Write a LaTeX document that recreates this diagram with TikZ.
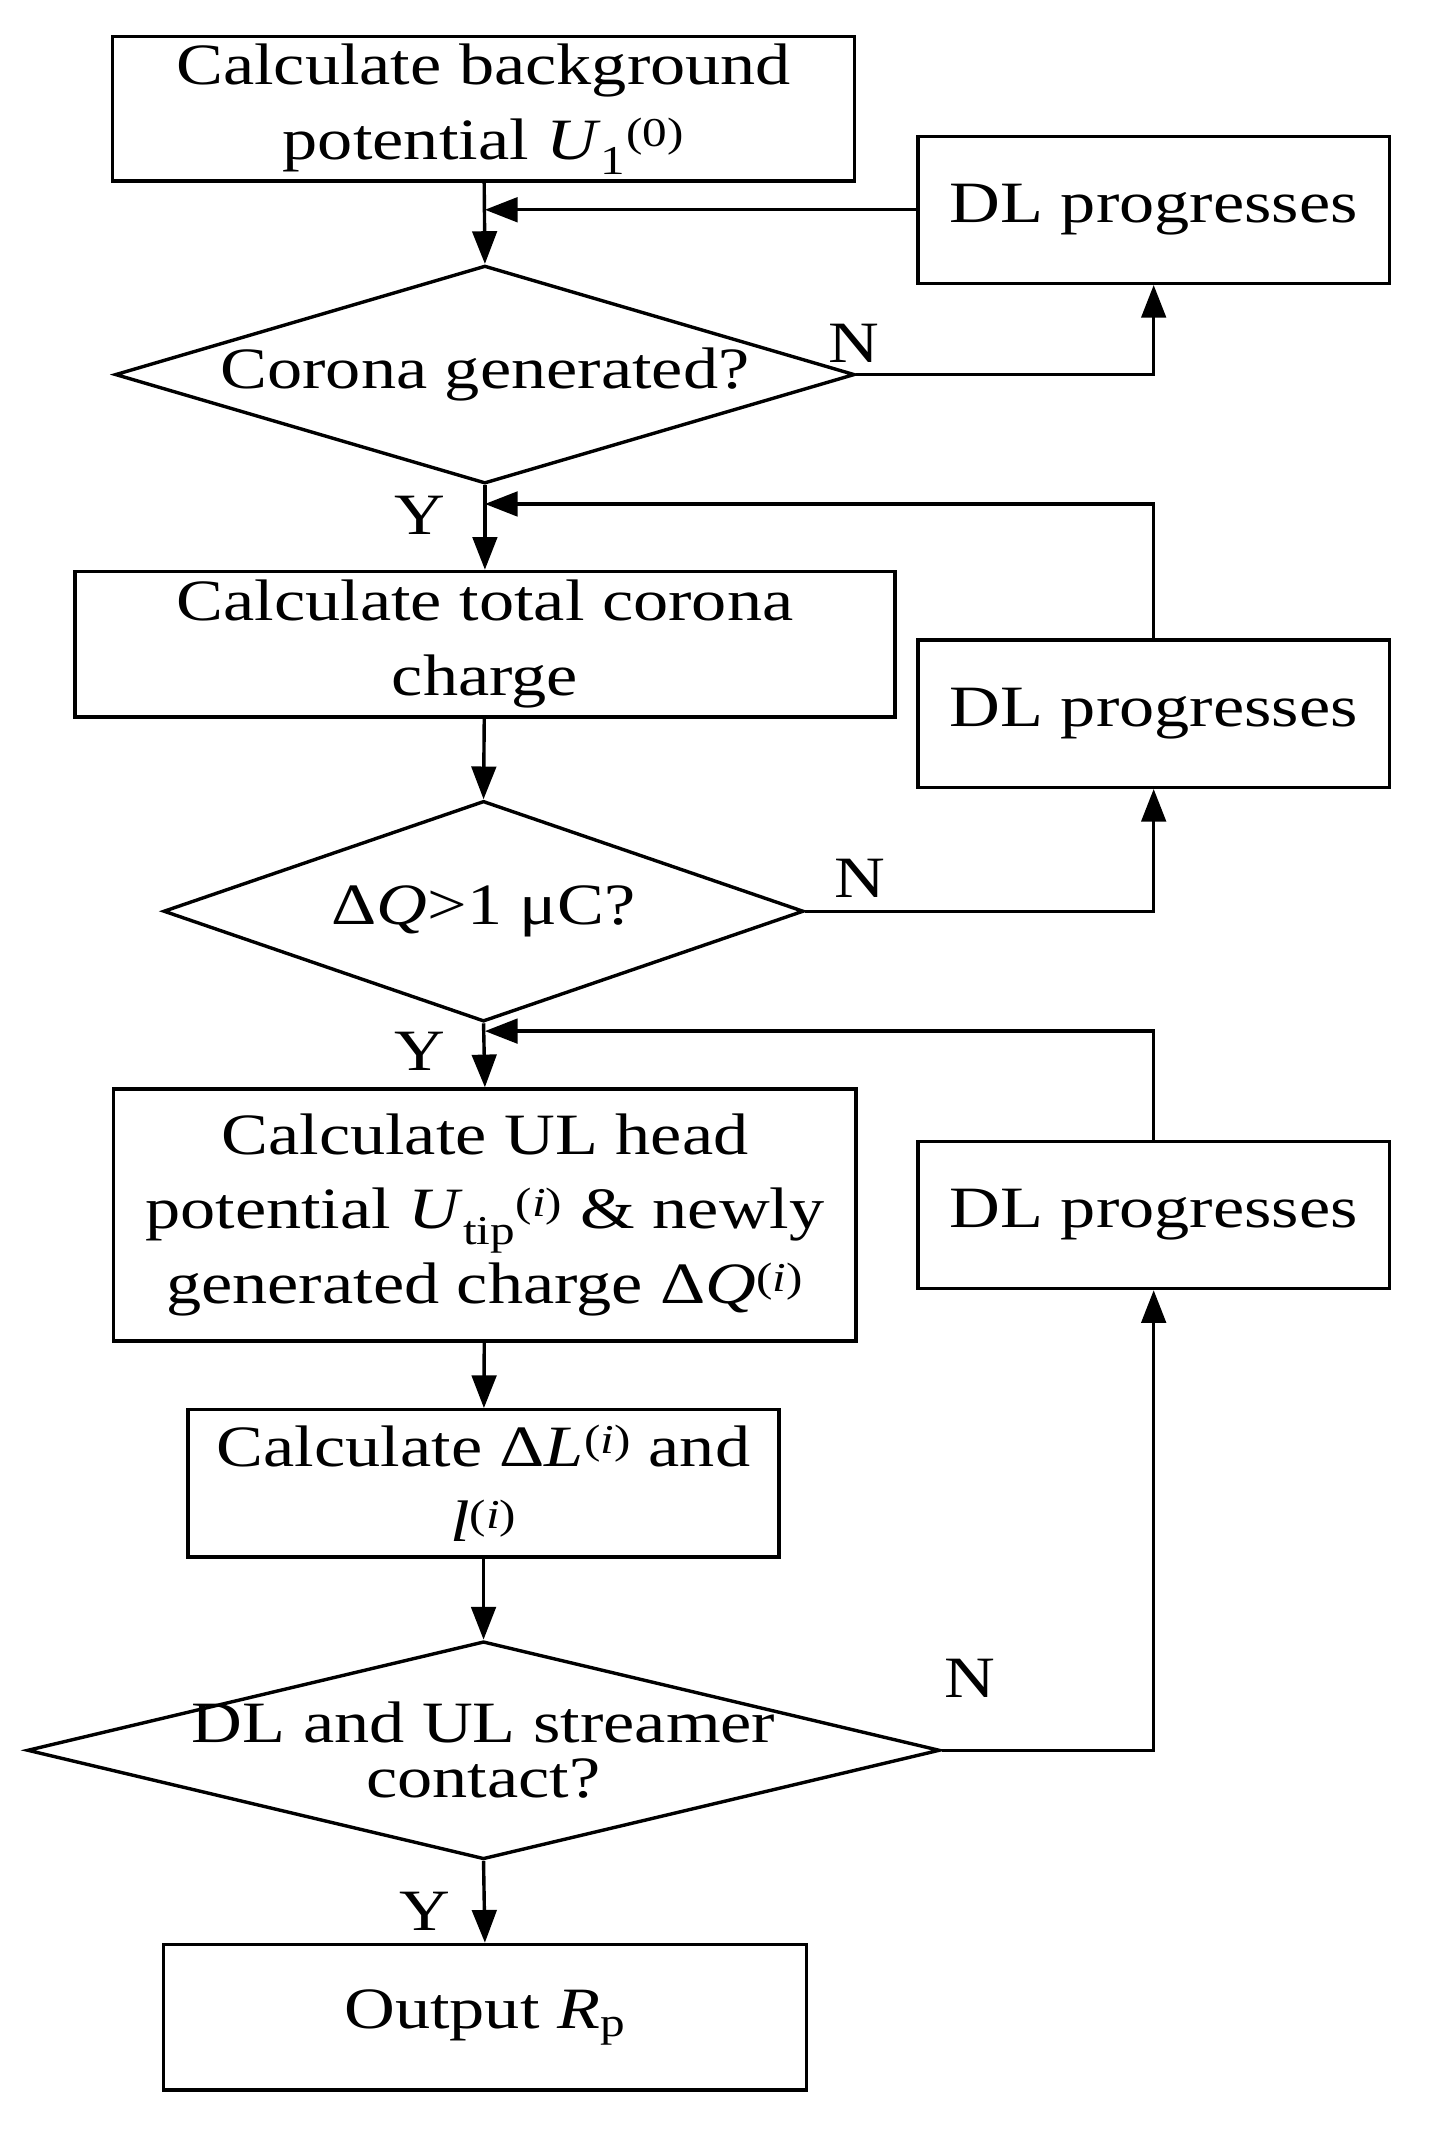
\documentclass[tikz,border=0pt]{standalone}
\usepackage{fontspec}
\setmainfont{Liberation Serif}[FakeStretch=1.2]
\usetikzlibrary{shapes.geometric,arrows.meta}
\begin{document}
\begin{tikzpicture}[x=1pt,y=-1pt,
  every node/.style={font=\fontsize{43}{55}\selectfont},
  box/.style={draw,line width=2.5pt,inner sep=0pt,align=center},
  ln/.style={line width=2.5pt},
  ar/.style={line width=2.5pt,-{Triangle[length=24pt,width=18pt]}},
  lab/.style={font=\fontsize{43}{44}\selectfont}]
\useasboundingbox (0,0) rectangle (1050,1577);
\node[box,minimum width=545pt,minimum height=106pt] (b1) at (355,80) {Calculate background\\potential \textit{U}\textsubscript{1}\textsuperscript{(0)}};
\node[box,minimum width=346pt,minimum height=108pt] (d1) at (847,154) {DL progresses};
\node[draw,line width=2.5pt,diamond,minimum width=543pt,minimum height=160pt,inner sep=0pt] (q1) at (356,275) {};
\node at (q1) {Corona generated?};
\node[box,minimum width=602pt,minimum height=107pt] (b2) at (356,473) {Calculate total corona\\charge};
\node[box,minimum width=346pt,minimum height=108pt] (d2) at (847,524) {DL progresses};
\node[draw,line width=2.5pt,diamond,minimum width=470pt,minimum height=162pt,inner sep=0pt] (q2) at (355,669) {};
\node at (q2) {Δ\textit{Q}>1 μC?};
\node[box,minimum width=545pt,minimum height=185pt] (b3) at (356,892) {Calculate UL head\\potential \textit{U}\textsubscript{tip}\textsuperscript{(\textit{i})} \& newly\\generated charge Δ\textit{Q}\textsuperscript{(\textit{i})}};
\node[box,minimum width=346pt,minimum height=108pt] (d3) at (847,892) {DL progresses};
\node[box,minimum width=434pt,minimum height=108pt] (b4) at (355,1089) {Calculate Δ\textit{L}\textsuperscript{(\textit{i})} and\\\textit{l}\textsuperscript{(\textit{i})}};
\node[draw,line width=2.5pt,diamond,minimum width=670pt,minimum height=160pt,inner sep=0pt] (q3) at (355,1285) {};
\node[align=center,font=\fontsize{43}{40}\selectfont] at (q3) {DL and UL streamer\\contact?};
\node[box,minimum width=472pt,minimum height=107pt] (b5) at (356,1481) {Output \textit{R}\textsubscript{p}};
\coordinate (j1) at (356,154);
\coordinate (j2) at (356,370);
\coordinate (j3) at (356,757);
\draw[ar] (b1) -- (q1.north);
\draw[ar] (d1.west) -- (j1);
\draw[ar] (q1.east) -| (d1.south);
\draw[ar] (q1.south) -- (b2.north);
\draw[ar] (d2.north) |- (j2);
\draw[ar] (b2) -- (q2.north);
\draw[ar] (q2.east) -| (d2.south);
\draw[ar] (q2.south) -- (b3.north);
\draw[ar] (d3.north) |- (j3);
\draw[ar] (b3) -- (b4);
\draw[ar] (b4) -- (q3.north);
\draw[ar] (q3.east) -| (d3.south);
\draw[ar] (q3.south) -- (b5.north);
\node[lab] at (627,252) {N};
\node[lab] at (631,645) {N};
\node[lab] at (712,1232) {N};
\node[lab] at (308,378) {Y};
\node[lab] at (308,772) {Y};
\node[lab] at (312,1403) {Y};
\end{tikzpicture}
\end{document}
